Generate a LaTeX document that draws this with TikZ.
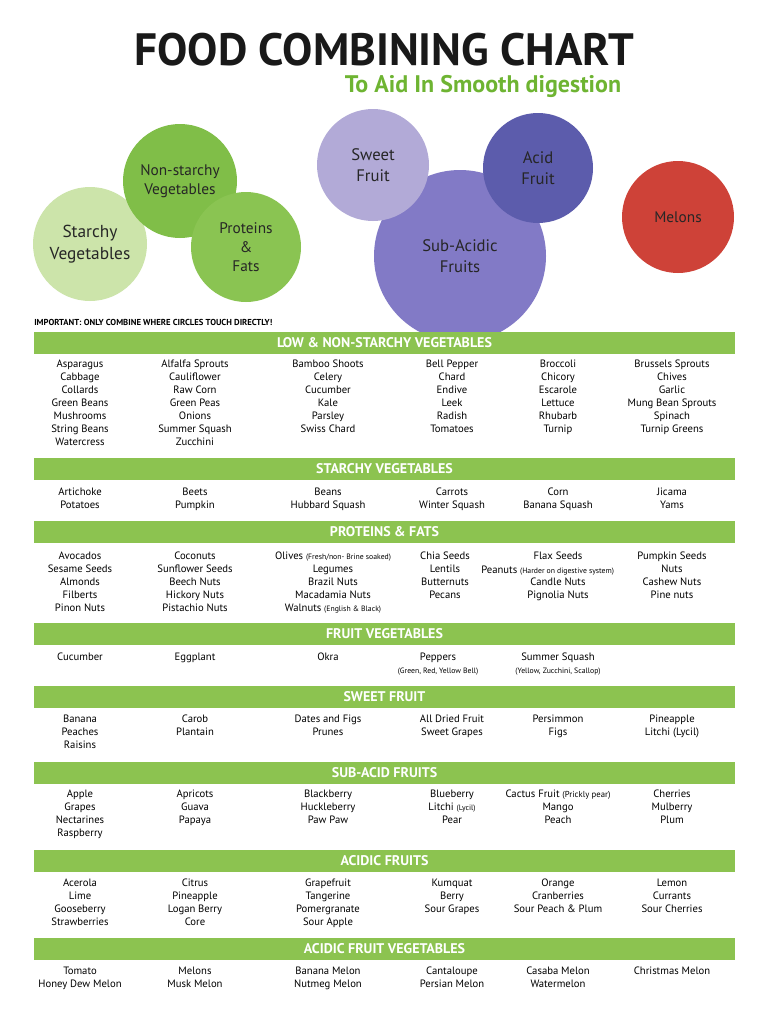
\documentclass[tikz,border=0pt]{standalone}
\usepackage{fontspec}
\setmainfont{PT Sans}
\definecolor{bar}{RGB}{140,195,80}
\definecolor{cstar}{RGB}{204,228,170}
\definecolor{cnon}{RGB}{128,190,72}
\definecolor{cprot}{RGB}{138,196,82}
\definecolor{csweet}{RGB}{178,170,215}
\definecolor{cacid}{RGB}{92,92,172}
\definecolor{csub}{RGB}{130,122,198}
\definecolor{cmel}{RGB}{206,66,56}
\definecolor{tgreen}{RGB}{110,180,50}
\begin{document}
\begin{tikzpicture}[x=0.75pt,y=-0.75pt,
 circ/.style={circle,inner sep=0pt,align=center,text=black!85,font=\fontsize{11.5}{14}\selectfont},
 hdr/.style={fill=bar,minimum width=701*0.75pt,minimum height=22*0.75pt,inner sep=0pt,text=white,font=\fontsize{10.5}{12}\selectfont\bfseries},
 col/.style={anchor=north,align=center,inner sep=0pt,font=\fontsize{8}{9.75}\selectfont}]
\useasboundingbox (0,0) rectangle (768,1024);
\fill[white] (0,0) rectangle (768,1024);
\node[inner sep=0pt,text=black!90] (title) at (384,50) {\fontsize{34}{38}\selectfont\bfseries FOOD COMBINING CHART};
\node[inner sep=0pt,text=tgreen] (sub) at (483,86) {\fontsize{18}{20}\selectfont\bfseries To Aid In Smooth digestion};
% circles
\node[circ,fill=cstar,minimum size=114*0.75pt,font=\fontsize{13}{16}\selectfont] (starchy) at (90,244) {Starchy\\Vegetables};
\node[circ,fill=cnon,minimum size=114*0.75pt] (nonst) at (180,181) {Non-starchy\\Vegetables};
\node[circ,fill=cprot,minimum size=110*0.75pt] (prot) at (246,247) {Proteins\\\&\\Fats};
\node[circ,fill=csub,minimum size=172*0.75pt,font=\fontsize{12.5}{16}\selectfont] (subac) at (460,256) {Sub-Acidic\\Fruits};
\node[circ,fill=csweet,minimum size=112*0.75pt,font=\fontsize{12.5}{16}\selectfont] (sweet) at (373,165) {Sweet\\Fruit};
\node[circ,fill=cacid,minimum size=110*0.75pt,font=\fontsize{12.5}{16}\selectfont] (acid) at (538,168) {Acid\\Fruit};
\node[circ,fill=cmel,minimum size=112*0.75pt] (mel) at (678,217) {Melons};
\node[anchor=west,inner sep=0pt,font=\fontsize{6.5}{8}\selectfont\bfseries] (imp) at (34,322) {IMPORTANT: ONLY COMBINE WHERE CIRCLES TOUCH DIRECTLY!};
% section 1
\node[hdr] (h1) at (384.5,343) {LOW \& NON-STARCHY VEGETABLES};
\node[col] (a1) at (80,360) {Asparagus\\Cabbage\\Collards\\Green Beans\\Mushrooms\\String Beans\\Watercress};
\node[col] (a2) at (195,360) {Alfalfa Sprouts\\Cauliflower\\Raw Corn\\Green Peas\\Onions\\Summer Squash\\Zucchini};
\node[col] (a3) at (328,360) {Bamboo Shoots\\Celery\\Cucumber\\Kale\\Parsley\\Swiss Chard};
\node[col] (a4) at (452,360) {Bell Pepper\\Chard\\Endive\\Leek\\Radish\\Tomatoes};
\node[col] (a5) at (558,360) {Broccoli\\Chicory\\Escarole\\Lettuce\\Rhubarb\\Turnip};
\node[col] (a6) at (672,360) {Brussels Sprouts\\Chives\\Garlic\\Mung Bean Sprouts\\Spinach\\Turnip Greens};
% section 2
\node[hdr] (h2) at (384.5,469) {STARCHY VEGETABLES};
\node[col] (b1) at (80,488) {Artichoke\\Potatoes};
\node[col] (b2) at (195,488) {Beets\\Pumpkin};
\node[col] (b3) at (328,488) {Beans\\Hubbard Squash};
\node[col] (b4) at (452,488) {Carrots\\Winter Squash};
\node[col] (b5) at (558,488) {Corn\\Banana Squash};
\node[col] (b6) at (672,488) {Jicama\\Yams};
% section 3
\node[hdr] (h3) at (384.5,532) {PROTEINS \& FATS};
\node[col] (c1) at (80,552) {Avocados\\Sesame Seeds\\Almonds\\Filberts\\Pinon Nuts};
\node[col] (c2) at (195,552) {Coconuts\\Sunflower Seeds\\Beech Nuts\\Hickory Nuts\\Pistachio Nuts};
\node[col] (c3) at (333,552) {Olives {\fontsize{5.8}{7}\selectfont(Fresh/non- Brine soaked)}\\Legumes\\Brazil Nuts\\Macadamia Nuts\\Walnuts {\fontsize{5.8}{7}\selectfont(English \& Black)}};
\node[col] (c4) at (445,552) {Chia Seeds\\Lentils\\Butternuts\\Pecans};
\node[anchor=west,inner sep=0pt,font=\fontsize{8}{9.75}\selectfont] (pea) at (481,571) {Peanuts {\fontsize{5.8}{7}\selectfont(Harder on digestive system)}};
\node[col] (c5) at (558,552) {Flax Seeds\\\\Candle Nuts\\Pignolia Nuts};
\node[col] (c6) at (672,552) {Pumpkin Seeds\\Nuts\\Cashew Nuts\\Pine nuts};
% section 4
\node[hdr] (h4) at (384.5,634) {FRUIT VEGETABLES};
\node[col] (d1) at (80,653) {Cucumber};
\node[col] (d2) at (195,653) {Eggplant};
\node[col] (d3) at (328,653) {Okra};
\node[col] (d4) at (438,653) {Peppers\\{\fontsize{5.8}{7}\selectfont(Green, Red, Yellow Bell)}};
\node[col] (d5) at (558,653) {Summer Squash\\{\fontsize{5.8}{7}\selectfont(Yellow, Zucchini, Scallop)}};
% section 5
\node[hdr] (h5) at (384.5,697) {SWEET FRUIT};
\node[col] (e1) at (80,715) {Banana\\Peaches\\Raisins};
\node[col] (e2) at (195,715) {Carob\\Plantain};
\node[col] (e3) at (328,715) {Dates and Figs\\Prunes};
\node[col] (e4) at (452,715) {All Dried Fruit\\Sweet Grapes};
\node[col] (e5) at (558,715) {Persimmon\\Figs};
\node[col] (e6) at (672,715) {Pineapple\\Litchi (Lycil)};
% section 6
\node[hdr] (h6) at (384.5,773) {SUB-ACID FRUITS};
\node[col] (f1) at (80,790) {Apple\\Grapes\\Nectarines\\Raspberry};
\node[col] (f2) at (195,790) {Apricots\\Guava\\Papaya};
\node[col] (f3) at (328,790) {Blackberry\\Huckleberry\\Paw Paw};
\node[col] (f4) at (452,790) {Blueberry\\Litchi {\fontsize{5.8}{7}\selectfont(Lycil)}\\Pear};
\node[col] (f5) at (558,790) {Cactus Fruit {\fontsize{6.5}{7}\selectfont(Prickly pear)}\\Mango\\Peach};
\node[col] (f6) at (672,790) {Cherries\\Mulberry\\Plum};
% section 7
\node[hdr] (h7) at (384.5,861) {ACIDIC FRUITS};
\node[col] (g1) at (80,879) {Acerola\\Lime\\Gooseberry\\Strawberries};
\node[col] (g2) at (195,879) {Citrus\\Pineapple\\Logan Berry\\Core};
\node[col] (g3) at (328,879) {Grapefruit\\Tangerine\\Pomergranate\\Sour Apple};
\node[col] (g4) at (452,879) {Kumquat\\Berry\\Sour Grapes};
\node[col] (g5) at (558,879) {Orange\\Cranberries\\Sour Peach \& Plum};
\node[col] (g6) at (672,879) {Lemon\\Currants\\Sour Cherries};
% section 8
\node[hdr] (h8) at (384.5,949) {ACIDIC FRUIT VEGETABLES};
\node[col] (k1) at (80,967) {Tomato\\Honey Dew Melon};
\node[col] (k2) at (195,967) {Melons\\Musk Melon};
\node[col] (k3) at (328,967) {Banana Melon\\Nutmeg Melon};
\node[col] (k4) at (452,967) {Cantaloupe\\Persian Melon};
\node[col] (k5) at (558,967) {Casaba Melon\\Watermelon};
\node[col] (k6) at (672,967) {Christmas Melon};
\end{tikzpicture}
\end{document}
